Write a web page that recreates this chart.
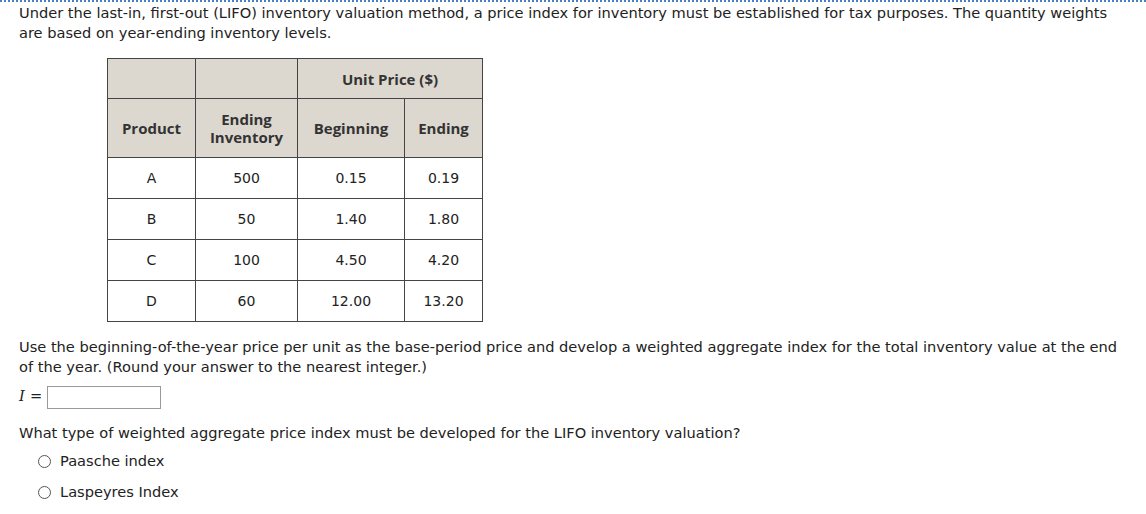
<!DOCTYPE html>
<html><head><meta charset="utf-8">
<script src="https://cdn.jsdelivr.net/npm/chart.js"></script>
<style>
body{margin:0;width:1146px;height:514px;background:#fff;font-family:"DejaVu Sans",Verdana,sans-serif;font-size:14px;color:#222;position:relative;overflow:hidden}
.topline{position:absolute;left:0;top:0;width:1146px;border-top:2px dotted #4a7fc1}
.t{position:absolute;left:19px;line-height:20px;font-size:14.6px;white-space:nowrap}
table{position:absolute;left:107px;top:58px;border-collapse:collapse;table-layout:fixed}
td{border:1px solid #444;text-align:center;font-size:14px;padding:0;overflow:hidden}
.h td{background:#dcd8d0;font-weight:bold;font-family:"Open Sans","DejaVu Sans",sans-serif;font-size:15px;color:#333;line-height:18px}
.inp{position:absolute;left:47px;top:386px;width:112px;height:21px;border:1px solid #999}
.r{position:absolute;left:38px;width:11px;height:11px;border:1px solid #555;border-radius:50%}
</style></head><body>
<div class="topline"></div>
<div class="t" style="top:3px">Under the last-in, first-out (LIFO) inventory valuation method, a price index for inventory must be established for tax purposes. The quantity weights<br>are based on year-ending inventory levels.</div>
<table id="tb"></table>
<div class="t" style="top:337px">Use the beginning-of-the-year price per unit as the base-period price and develop a weighted aggregate index for the total inventory value at the end<br>of the year. (Round your answer to the nearest integer.)</div>
<div class="t" style="top:386px;font-style:italic;font-family:'DejaVu Serif',serif">I</div>
<div class="t" style="top:386px;left:30px">=</div>
<div class="inp"></div>
<div class="t" style="top:423px">What type of weighted aggregate price index must be developed for the LIFO inventory valuation?</div>
<div class="r" style="top:455px"></div><div class="t" style="top:451px;left:60px">Paasche index</div>
<div class="r" style="top:486px"></div><div class="t" style="top:482px;left:60px">Laspeyres Index</div>
<script>
const products=["A","B","C","D"];
const inventory=["500","50","100","60"];
const priceBegin=["0.15","1.40","4.50","12.00"];
const priceEnd=["0.19","1.80","4.20","13.20"];
const widths=[87,101,106,77];
let h='<tr class="h" style="height:40px"><td style="width:'+widths[0]+'px"></td><td style="width:'+widths[1]+'px"></td><td colspan="2">Unit Price ($)</td></tr>';
h+='<tr class="h" style="height:59px"><td>Product</td><td>Ending<br>Inventory</td><td style="width:'+widths[2]+'px">Beginning</td><td style="width:'+widths[3]+'px">Ending</td></tr>';
products.forEach((p,i)=>{h+='<tr style="height:41px"><td>'+p+'</td><td>'+inventory[i]+'</td><td>'+priceBegin[i]+'</td><td>'+priceEnd[i]+'</td></tr>';});
document.getElementById('tb').innerHTML='<colgroup>'+widths.map(w=>'<col style="width:'+w+'px">').join('')+'</colgroup>'+h;
</script>
</body></html>
